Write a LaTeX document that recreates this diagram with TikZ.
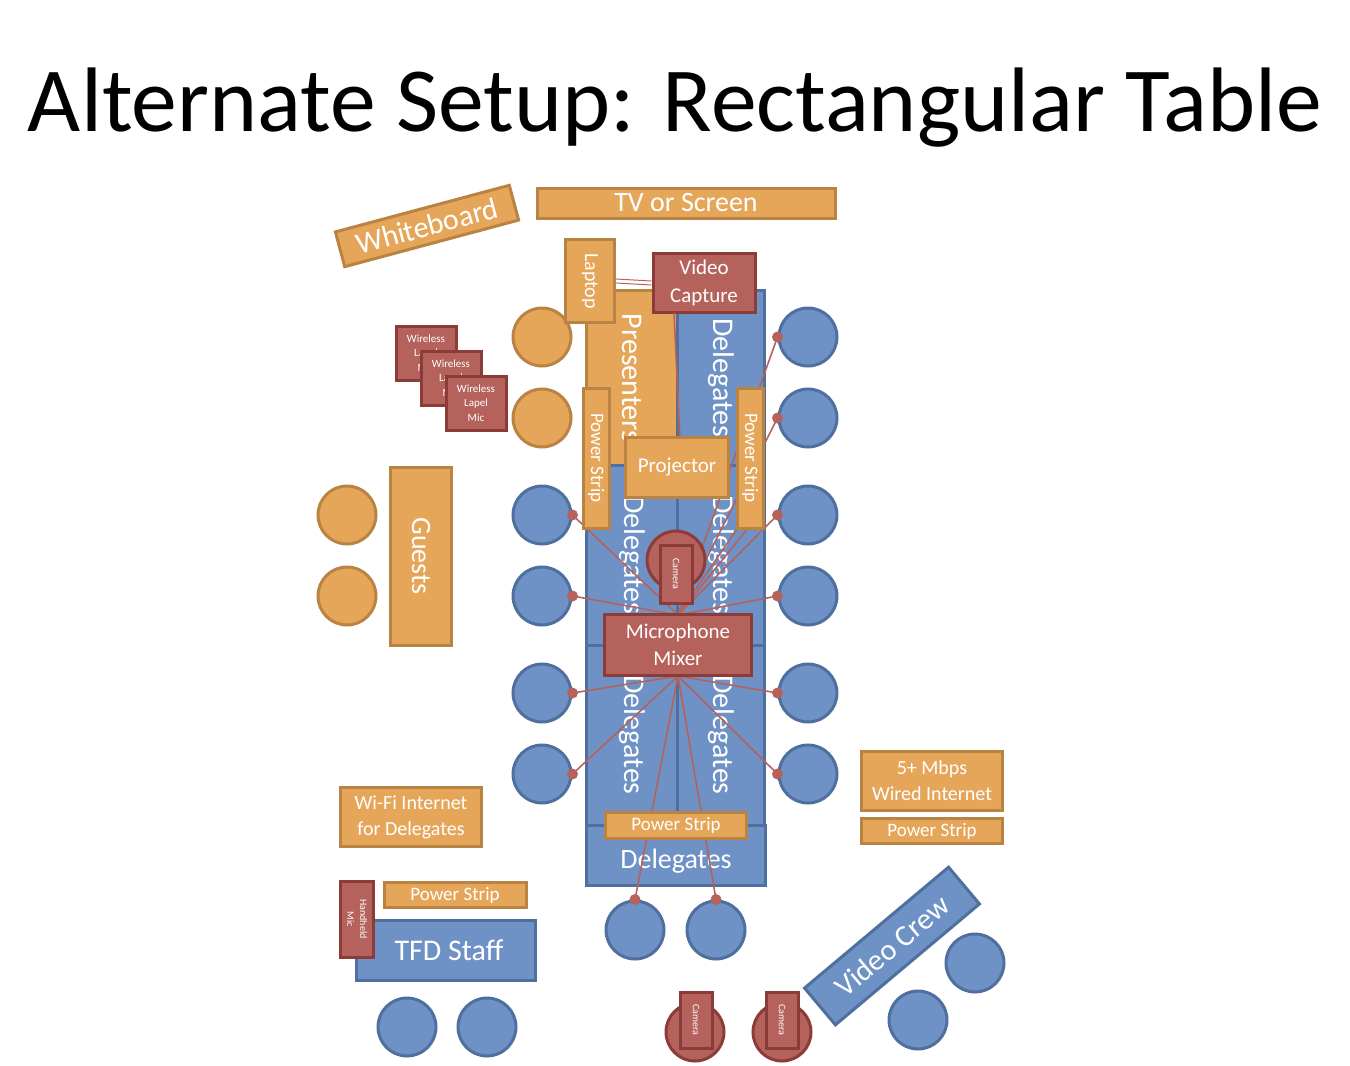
\documentclass[tikz,border=0pt]{standalone}
\usepackage{fontspec}
\setmainfont{Carlito}
\usepackage{graphicx}
\definecolor{of}{HTML}{E6A65A}\definecolor{od}{HTML}{B98343}
\definecolor{bf}{HTML}{6F92C6}\definecolor{bd}{HTML}{4F6F9E}
\definecolor{rf}{HTML}{B5625C}\definecolor{rd}{HTML}{8B3B38}
\begin{document}
\begin{tikzpicture}[x=1pt,y=-1pt,
 base/.style={draw,line width=3pt,inner sep=0pt,text=white,align=center},
 ob/.style={base,fill=of,draw=od},
 bb/.style={base,fill=bf,draw=bd},
 rb/.style={base,fill=rf,draw=rd},
 oc/.style={circle,fill=of,draw=od,line width=3pt,minimum size=58pt,inner sep=0pt},
 bc/.style={circle,fill=bf,draw=bd,line width=3pt,minimum size=58pt,inner sep=0pt},
 rc/.style={circle,fill=rf,draw=rd,line width=3pt,minimum size=58pt,inner sep=0pt},
 wire/.style={draw=rf,line width=1.6pt},
 dot/.style={circle,fill=rf,inner sep=0pt,minimum size=11pt},
 f/.style={font=\fontsize{#1pt}{1.3\dimexpr#1pt\relax}\selectfont}]
\useasboundingbox (0,0) rectangle (1350,1066);
\node[anchor=center] (title) at (675,108) {\resizebox{1294pt}{!}{\fontsize{80}{80}\selectfont Alternate Setup: Rectangular Table}};
% tables
\node[ob,rotate=-90,minimum width=176,minimum height=92,f=30] (pres) at (632,378) {Presenters};
\node[bb,rotate=-90,minimum width=176,minimum height=87,f=30] (d1) at (721,378) {Delegates};
\node[bb,rotate=-90,minimum width=180,minimum height=92,f=30] (d2) at (632,555) {Delegates};
\node[bb,rotate=-90,minimum width=180,minimum height=87,f=30] (d3) at (721,555) {Delegates};
\node[bb,rotate=-90,minimum width=180,minimum height=92,f=30] (d4) at (632,735) {Delegates};
\node[bb,rotate=-90,minimum width=180,minimum height=87,f=30] (d5) at (721,735) {Delegates};
\node[bb,minimum width=179,minimum height=60,f=28,text depth=0pt] (d6) at (676,855) {\raisebox{-8pt}{Delegates}};
% chairs
\node[oc] (c1) at (542,337) {}; \node[oc] (c2) at (542,418) {};
\node[bc] (l1) at (542,515) {}; \node[bc] (l2) at (542,596) {};
\node[bc] (l3) at (542,693) {}; \node[bc] (l4) at (542,774) {};
\node[bc] (r1) at (808,337) {}; \node[bc] (r2) at (808,418) {};
\node[bc] (r3) at (808,515) {}; \node[bc] (r4) at (808,596) {};
\node[bc] (r5) at (808,693) {}; \node[bc] (r6) at (808,774) {};
\node[bc] (b1) at (635,930) {}; \node[bc] (b2) at (716,930) {};
\node[oc] (g1) at (347,515) {}; \node[oc] (g2) at (347,596) {};
\node[bc] (t1) at (407,1027) {}; \node[bc] (t2) at (487,1027) {};
\node[bc] (v1) at (975,963) {}; \node[bc] (v2) at (918,1020) {};
% wires
\coordinate (mx) at (678,676);
\coordinate (mt) at (678,615);
\coordinate (pw1) at (739,526);
\coordinate (pw2) at (748,528);
\draw[wire] (l1.east) -- (mt); \draw[wire] (l2.east) -- (mt);
\draw[wire] (r1.west) -- (mt); \draw[wire] (r2.west) -- (mt);
\draw[wire] (r3.west) -- (mt); \draw[wire] (r4.west) -- (mt);
\draw[wire] (l3.east) -- (mx); \draw[wire] (l4.east) -- (mx);
\draw[wire] (r5.west) -- (mx); \draw[wire] (r6.west) -- (mx);
\draw[wire] (b1.north) -- (mx); \draw[wire] (b2.north) -- (mx);
\draw[wire] (pw1) -- (mt); \draw[wire] (pw2) -- (mt);
\foreach \c/\a in {l1/east,l2/east,l3/east,l4/east,r1/west,r2/west,r3/west,r4/west,r5/west,r6/west,b1/north,b2/north}
  \node[dot] at (\c.\a) {};
% equipment on table
\node[ob,minimum width=298,minimum height=30,f=28] (tv) at (686,203) {TV or Screen};
\node[ob,rotate=15,minimum width=180,minimum height=36,f=30] (wb) at (427,226) {Whiteboard};
\node[ob,rotate=-90,minimum width=83,minimum height=49,f=20] (lap) at (590,281) {Laptop};
\node[rb,minimum width=102,minimum height=59,f=21] (vc) at (704,283) {Video\\Capture};
\draw[wire,line width=1pt] ([yshift=-2pt]lap.north) -- ([yshift=-2pt]vc.west);
\draw[wire,line width=1pt] ([yshift=2pt]lap.north) -- ([yshift=2pt]vc.west);
\node[ob,rotate=-90,minimum width=140,minimum height=26,f=19] (ps1) at (596,458) {Power Strip};
\node[ob,rotate=-90,minimum width=140,minimum height=26,f=19] (ps2) at (750,458) {Power Strip};
\coordinate (vcs) at (674,313);
\draw[wire] (vcs) -- (680,440);
\node[ob,minimum width=103,minimum height=60,f=21] (proj) at (677,467) {Projector};
\node[rc] (camc) at (676,560) {};
\node[rb,rotate=-90,minimum width=58,minimum height=32,f=10] (cam) at (676,574) {Camera};
\node[rb,minimum width=147,minimum height=61,f=21] (mix) at (678,645) {Microphone\\Mixer};
\node[ob,minimum width=141,minimum height=26,f=19] (ps3) at (676,825) {Power Strip};
% side items
\node[rb,minimum width=60,minimum height=54,f=11] (w1) at (426,353) {Wireless\\Lapel\\Mic};
\node[rb,minimum width=60,minimum height=54,f=11] (w2) at (451,378) {Wireless\\Lapel\\Mic};
\node[rb,minimum width=60,minimum height=54,f=11] (w3) at (476,403) {Wireless\\Lapel\\Mic};
\node[ob,rotate=-90,minimum width=178,minimum height=61,f=28] (gst) at (421,556) {Guests};
\node[ob,minimum width=141,minimum height=59,f=20] (wifi) at (411,817) {Wi-Fi Internet\\for Delegates};
\node[ob,minimum width=141,minimum height=59,f=20] (mbps) at (932,781) {5+ Mbps\\Wired Internet};
\node[ob,minimum width=141,minimum height=25,f=19] (ps4) at (932,831) {Power Strip};
\node[bb,minimum width=179,minimum height=60,f=30] (tfd) at (446,950) {\hspace*{6pt}TFD Staff};
\node[ob,minimum width=142,minimum height=25,f=19] (ps5) at (455,895) {Power Strip};
\node[rb,rotate=-90,minimum width=76,minimum height=33,f=10] (hm) at (357,919) {Handheld\\Mic};
\node[bb,rotate=40,minimum width=188,minimum height=48,f=30] (crew) at (892,946) {Video Crew};
\node[rc] (cc1) at (695,1032) {}; \node[rc] (cc2) at (782,1032) {};
\node[rb,rotate=-90,minimum width=56,minimum height=32,f=10] (cm1) at (696,1020) {Camera};
\node[rb,rotate=-90,minimum width=56,minimum height=32,f=10] (cm2) at (782,1020) {Camera};
\end{tikzpicture}
\end{document}
